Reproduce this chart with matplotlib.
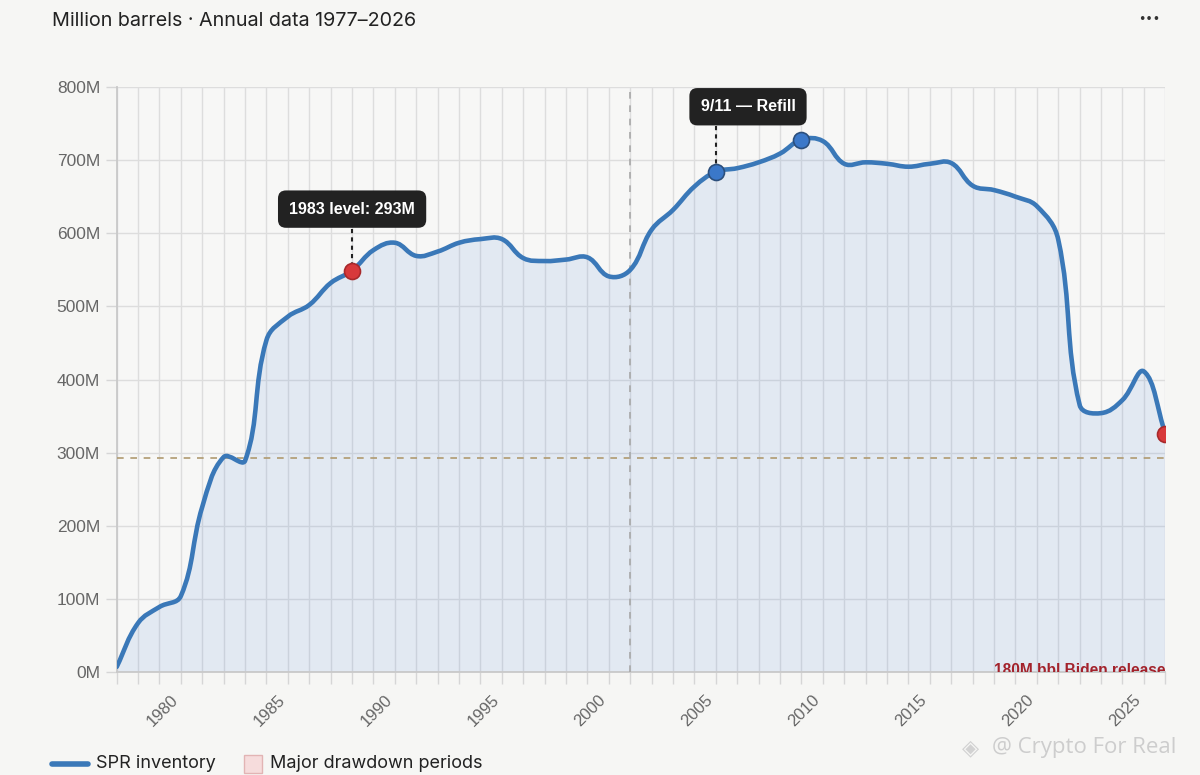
import numpy as np
import matplotlib
matplotlib.use("Agg")
import matplotlib.pyplot as plt
from matplotlib.path import Path
from matplotlib.patches import PathPatch, Rectangle
from matplotlib.lines import Line2D

# ---------------- data ----------------
years = list(range(1977, 2027))
inventory = [7, 67, 89, 104, 226, 294, 289, 454, 486, 502,
             532, 549, 577, 587, 569, 575, 587, 592, 592, 566,
             562, 564, 567, 541, 550, 605, 632, 664, 684, 689,
             697, 709, 728, 726, 695, 697, 695, 691, 695, 696,
             665, 659, 650, 637, 591, 365, 354, 372, 411, 326]
y_ticks = [0, 100, 200, 300, 400, 500, 600, 700, 800]
y_tick_labels = [f"{v}M" for v in y_ticks]
x_label_years = [1980, 1985, 1990, 1995, 2000, 2005, 2010, 2015, 2020, 2025]
red_years = [1988, 2026]
blue_years = [2005, 2009]
ref_level = 293
event_year = 2001
title = "Million barrels · Annual data 1977–2026"
ann1_text, ann1_year = "1983 level: 293M", 1988
ann2_text, ann2_year = "9/11 — Refill", 2005
biden_text = "180M bbl Biden release"
legend_labels = ["SPR inventory", "Major drawdown periods"]

# ---------------- style ----------------
BG = "#f6f6f4"
LINE = "#3a78b8"
FILL = (0.30, 0.52, 0.84, 0.12)
GRID = "#dddddd"
TXT = "#666666"

fig = plt.figure(figsize=(12, 7.75), dpi=100, facecolor=BG)
ax = fig.add_axes([116.7 / 1200, 1 - 672 / 775, (1165.3 - 116.7) / 1200, (672 - 87) / 775])
ax.set_facecolor("#f7f7f6")
ax.set_xlim(years[0], years[-1])
ax.set_ylim(0, 800)

# smooth curve: Chart.js-style spline (tension 0.4, display-distance weighted)
tension = 0.4
x = np.array(years, float)
y = np.array(inventory, float)
P = np.column_stack([x, y])
D = ax.transData.transform(P)
n = len(P)
c_prev = P.copy()
c_next = P.copy()
for i in range(n):
    i0 = max(i - 1, 0)
    i2 = min(i + 1, n - 1)
    d01 = np.hypot(*(D[i] - D[i0]))
    d12 = np.hypot(*(D[i2] - D[i]))
    tot = d01 + d12
    s01 = d01 / tot if tot else 0
    s12 = d12 / tot if tot else 0
    c_prev[i] = P[i] - tension * s01 * (P[i2] - P[i0])
    c_next[i] = P[i] + tension * s12 * (P[i2] - P[i0])
verts = [tuple(P[0])]
codes = [Path.MOVETO]
for i in range(n - 1):
    verts += [tuple(c_next[i]), tuple(c_prev[i + 1]), tuple(P[i + 1])]
    codes += [Path.CURVE4] * 3
line_path = Path(verts, codes)
fill_verts = [(x[0], 0), (x[0], y[0])] + verts[1:] + [(x[-1], 0), (x[0], 0)]
fill_codes = [Path.MOVETO, Path.LINETO] + codes[1:] + [Path.LINETO, Path.CLOSEPOLY]
ax.add_patch(PathPatch(Path(fill_verts, fill_codes), facecolor=FILL, edgecolor="none", zorder=2))
ax.add_patch(PathPatch(line_path, facecolor="none", edgecolor=LINE, lw=3.3,
                       capstyle="round", joinstyle="round", zorder=4))

# grid / axes
ax.set_xticks(years)
ax.set_xticklabels([str(yv) if yv in x_label_years else "" for yv in years],
                   rotation=45, ha="right", va="top")
ax.set_yticks(y_ticks)
ax.set_yticklabels(y_tick_labels)
ax.grid(True, color=GRID, lw=1, zorder=0)
ax.set_axisbelow(True)
for s in ["top", "right"]:
    ax.spines[s].set_visible(False)
for s in ["left", "bottom"]:
    ax.spines[s].set_color("#c9c9c9")
    ax.spines[s].set_linewidth(1.3)
ax.tick_params(axis="x", length=8.5, width=1, color="#d6d6d6", pad=6,
               labelsize=12, labelcolor=TXT)
ax.tick_params(axis="y", length=8, width=1, color="#d6d6d6", pad=4,
               labelsize=12.5, labelcolor=TXT)
for lab in ax.get_xticklabels() + ax.get_yticklabels():
    lab.set_family("Liberation Sans")

# reference lines
ax.axhline(ref_level, color="#b09a70", lw=1.2, ls=(0, (4, 4)), zorder=3)
ax.axvline(event_year, color="#a8a8a8", lw=1.2, ls=(0, (4, 4)), zorder=3)

# highlighted points
ax.plot(red_years, [inventory[years.index(v)] for v in red_years], "o", ms=11.5,
        mfc="#d8393b", mec="#a82a2c", mew=1.2, zorder=6, clip_on=True)
ax.plot(blue_years, [inventory[years.index(v)] for v in blue_years], "o", ms=11.5,
        mfc="#3b78c9", mec="#2c4f7c", mew=1.2, zorder=6, clip_on=True)

# annotations
box = dict(boxstyle="round,pad=0.7,rounding_size=0.5", fc="#222222", ec="none")
ax.text(ann1_year, 633, ann1_text, ha="center", va="center", color="white",
        fontsize=11.5, fontweight="bold", family="Liberation Sans", bbox=box, zorder=8)
ax.plot([ann1_year, ann1_year], [606, inventory[years.index(ann1_year)] + 8],
        color="#222222", lw=1.5, ls=(0, (2, 2)), zorder=5)
ax.text(2006.5, 773, ann2_text, ha="center", va="center", color="white",
        fontsize=11.5, fontweight="bold", family="Liberation Sans", bbox=box, zorder=8)
ax.plot([ann2_year, ann2_year], [746, inventory[years.index(ann2_year)] + 8],
        color="#222222", lw=1.5, ls=(0, (2, 2)), zorder=5)

ax.text(years[-1], -4, biden_text, ha="right", va="baseline", color="#a3222b",
        fontsize=11.2, fontweight="bold", family="Liberation Sans", clip_on=True, zorder=7)

# title and menu dots
fig.text(52 / 1200, 1 - 21 / 775, title, ha="left", va="center", fontsize=14.2,
         family="Inter", color="#222222")
fig.text(1149 / 1200, 1 - 20 / 775, "•••", ha="center", va="center", fontsize=9,
         color="#333333", family="DejaVu Sans")

# legend (manual)
ly = 1 - 764 / 775
fig.add_artist(Line2D([52 / 1200, 88 / 1200], [ly, ly], transform=fig.transFigure,
                      color=LINE, lw=4, solid_capstyle="round"))
fig.text(96 / 1200, ly, legend_labels[0], ha="left", va="center", fontsize=13,
         family="Inter", color="#222222")
fig.add_artist(Rectangle((244 / 1200, 1 - 773 / 775), 18 / 1200, 18 / 775,
                         transform=fig.transFigure, fc="#f6dcdc", ec="#e2b4b4", lw=1))
fig.text(270 / 1200, ly, legend_labels[1], ha="left", va="center", fontsize=13,
         family="Inter", color="#222222")

# watermark
fig.text(962 / 1200, 1 - 748 / 775, "◈", ha="left", va="center", fontsize=16,
         color="#d2d2d2", family="DejaVu Sans")
fig.text(992 / 1200, 1 - 748 / 775, "@ Crypto For Real", ha="left", va="center",
         fontsize=16, color="#cdcdcd", family="Open Sans")

fig.savefig("out.png", dpi=100, facecolor=BG)
